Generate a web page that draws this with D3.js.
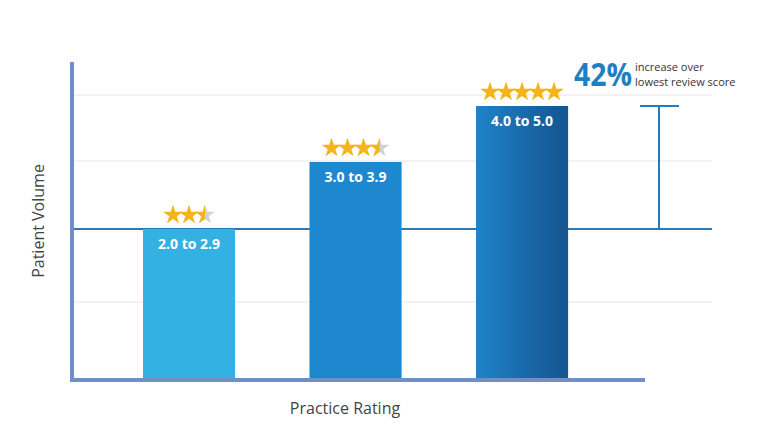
<!DOCTYPE html><html><head><meta charset="utf-8"><script src="https://cdn.jsdelivr.net/npm/d3@7"></script>
<style>body{margin:0;background:#fff}</style></head><body><svg id="c" width="768" height="432"></svg><script>
const categories=["2.0 to 2.9","3.0 to 3.9","4.0 to 5.0"];
const values=[151,218,274];
const stars=[2.5,3.5,5];
const gridValues=[78,151,219,285];
const svg=d3.select("#c");
const x=d3.scaleBand().domain(categories).range([109.7,601.4]).paddingInner(0.447).paddingOuter(0.2);
const y=d3.scaleLinear().domain([0,318]).range([380,62]);
const defs=svg.append("defs");
const g=defs.append("linearGradient").attr("id","g3");
g.append("stop").attr("offset","0").attr("stop-color","#1f82c9");
g.append("stop").attr("offset","1").attr("stop-color","#15548f");
svg.selectAll(".gr").data(gridValues).join("line").attr("x1",72).attr("x2",712)
 .attr("y1",d=>y(d)).attr("y2",d=>y(d)).attr("stroke","#e2e6ea").attr("stroke-width",1);
svg.append("line").attr("x1",72).attr("x2",712).attr("y1",y(values[0])).attr("y2",y(values[0])).attr("stroke","#2a7ab8").attr("stroke-width",2);
const fills=["#35b0e2","#1e88cf","url(#g3)"];
svg.selectAll(".bar").data(values).join("rect").attr("x",(d,i)=>x(categories[i])).attr("width",x.bandwidth())
 .attr("y",d=>y(d)).attr("height",d=>380-y(d)).attr("fill",(d,i)=>fills[i]);
svg.selectAll(".lbl").data(values).join("text").attr("x",(d,i)=>x(categories[i])+x.bandwidth()/2).attr("y",d=>y(d)+20)
 .attr("text-anchor","middle").attr("fill","#fff").attr("font-family","Open Sans").attr("font-weight",700).attr("font-size",14)
 .text((d,i)=>categories[i]);
const sym=d3.symbol().type(d3.symbolStar).size(120);
values.forEach((v,i)=>{
 const cx=x(categories[i])+x.bandwidth()/2;
 const count=Math.ceil(stars[i]);
 const w=16, start=cx-(count-1)*w/2;
 for(let k=0;k<count;k++){
  const sx=start+k*w, sy=y(v)-14;
  const frac=Math.min(1,Math.max(0,stars[i]-k));
  const id="clip"+i+"_"+k;
  defs.append("clipPath").attr("id",id).append("rect").attr("x",-9).attr("y",-10).attr("width",18*frac).attr("height",20);
  if(frac<1) svg.append("path").attr("d",sym()).attr("transform",`translate(${sx},${sy})`).attr("fill","#d0d3d6");
  svg.append("path").attr("d",sym()).attr("transform",`translate(${sx},${sy})`).attr("fill","#f5b31c").attr("clip-path",`url(#${id})`);
 }
});
svg.append("line").attr("x1",72).attr("x2",72).attr("y1",62).attr("y2",381).attr("stroke","#6f90c6").attr("stroke-width",4);
svg.append("line").attr("x1",70).attr("x2",645).attr("y1",380).attr("y2",380).attr("stroke","#6f90c6").attr("stroke-width",4);
svg.append("text").attr("transform","translate(44,221) rotate(-90)").attr("text-anchor","middle").attr("font-family","Open Sans").attr("font-size",16).attr("fill","#444").text("Patient Volume");
svg.append("text").attr("x",345).attr("y",414).attr("text-anchor","middle").attr("font-family","Open Sans").attr("font-size",16).attr("fill","#444").text("Practice Rating");
const bx=659;
svg.append("line").attr("x1",bx).attr("x2",bx).attr("y1",y(values[2])).attr("y2",y(values[0])).attr("stroke","#2a7ab8").attr("stroke-width",2);
svg.append("line").attr("x1",640).attr("x2",679).attr("y1",y(values[2])).attr("y2",y(values[2])).attr("stroke","#2a7ab8").attr("stroke-width",2);
svg.append("text").attr("x",574).attr("y",86).attr("font-family","Liberation Sans Narrow, Open Sans").attr("font-weight",700).attr("font-size",32).attr("fill","#1e7fc4").attr("textLength",58).attr("lengthAdjust","spacingAndGlyphs").text("42%");
svg.append("text").attr("x",635).attr("y",71).attr("font-family","Open Sans").attr("font-size",11).attr("fill","#333").text("increase over");
svg.append("text").attr("x",635).attr("y",86).attr("font-family","Open Sans").attr("font-size",11).attr("fill","#333").text("lowest review score");
</script></body></html>
